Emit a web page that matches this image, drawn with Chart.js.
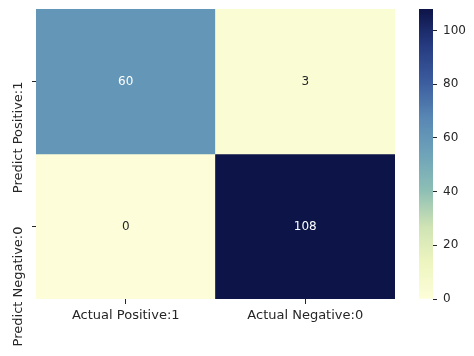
<!DOCTYPE html>
<html>
<head>
<meta charset="utf-8">
<script src="https://cdn.jsdelivr.net/npm/chart.js@4/dist/chart.umd.min.js"></script>
<style>
  html, body { margin: 0; padding: 0; background: #ffffff; }
  #wrap { position: relative; width: 474px; height: 356px; overflow: hidden; }
  #heat { position: absolute; left: 0; top: 0; }
  #cbar { position: absolute; left: 410px; top: 0; }
</style>
</head>
<body>
<div id="wrap">
  <canvas id="heat" width="474" height="356"></canvas>
  <canvas id="cbar" width="64" height="356"></canvas>
</div>
<script>
// ---- data ----
const colLabels = ['Actual Positive:1', 'Actual Negative:0'];
const rowLabels = ['Predict Positive:1', 'Predict Negative:0'];
const rowPositiveValues = [60, 3];
const rowNegativeValues = [0, 108];
const colorbarTicks = [0, 20, 40, 60, 80, 100];
const vmin = 0;
const vmax = 108;
// colormap (as it appears in the reference), position 0..1 -> colour
const cmapPositions = [0, 0.125, 0.25, 0.375, 0.5, 0.625, 0.75, 0.875, 1];
const cmapColors = ['#fdfed9', '#eef5c0', '#cfe3b4', '#8dbfb5', '#6ea3b9', '#5887b4', '#3b5c9e', '#263a80', '#0d1448'];

const rows = [rowPositiveValues, rowNegativeValues];
const TEXT = '#262626';
const FONT = { family: 'DejaVu Sans', size: 12 };
const AXIS_FONT = { family: 'DejaVu Sans', size: 13 };

function hexToRgb(h) {
  const n = parseInt(h.slice(1), 16);
  return [(n >> 16) & 255, (n >> 8) & 255, n & 255];
}
function cmapRgb(t) {
  t = Math.max(0, Math.min(1, t));
  for (let i = 0; i < cmapPositions.length - 1; i++) {
    const a = cmapPositions[i], b = cmapPositions[i + 1];
    if (t <= b) {
      const f = (t - a) / (b - a);
      const c1 = hexToRgb(cmapColors[i]), c2 = hexToRgb(cmapColors[i + 1]);
      return c1.map((v, k) => Math.round(v + (c2[k] - v) * f));
    }
  }
  return hexToRgb(cmapColors[cmapColors.length - 1]);
}
function valueColor(v) {
  const c = cmapRgb((v - vmin) / (vmax - vmin));
  return 'rgb(' + c.join(',') + ')';
}
function textColorFor(v) {
  const c = cmapRgb((v - vmin) / (vmax - vmin)).map(x => {
    x /= 255;
    return x <= 0.03928 ? x / 12.92 : Math.pow((x + 0.055) / 1.055, 2.4);
  });
  const lum = 0.2126 * c[0] + 0.7152 * c[1] + 0.0722 * c[2];
  return lum < 0.408 ? '#ffffff' : TEXT;
}

const annotatePlugin = {
  id: 'annotate',
  afterDatasetsDraw(chart) {
    const ctx = chart.ctx;
    ctx.save();
    ctx.font = FONT.size + 'px ' + FONT.family;
    ctx.textAlign = 'center';
    ctx.textBaseline = 'middle';
    chart.data.datasets.forEach((ds, di) => {
      const meta = chart.getDatasetMeta(di);
      meta.data.forEach((el, i) => {
        const v = rows[di][i];
        ctx.fillStyle = textColorFor(v);
        ctx.fillText(String(v), el.x, (el.y + el.base) / 2);
      });
    });
    ctx.restore();
  }
};

new Chart(document.getElementById('heat'), {
  type: 'bar',
  data: {
    labels: colLabels,
    datasets: rows.map((vals, r) => ({
      label: rowLabels[r],
      data: vals.map(() => [r, r + 1]),
      backgroundColor: vals.map(v => valueColor(v)),
      borderWidth: 0,
      grouped: false,
      categoryPercentage: 1.0,
      barPercentage: 1.0
    }))
  },
  options: {
    responsive: false,
    animation: false,
    layout: { padding: { top: 9, right: 79, left: 0, bottom: 0 } },
    plugins: { legend: { display: false }, tooltip: { enabled: false } },
    scales: {
      x: {
        type: 'category',
        offset: true,
        border: { display: false },
        grid: { display: true, drawOnChartArea: false, offset: false, tickLength: 5, color: TEXT, tickWidth: 1 },
        ticks: { color: TEXT, font: AXIS_FONT, padding: 4, maxRotation: 0, minRotation: 0 },
        afterFit(scale) { scale.height = 57; scale.paddingLeft = 0; scale.paddingRight = 0; }
      },
      y: {
        type: 'linear',
        min: 0,
        max: rows.length,
        reverse: true,
        border: { display: false },
        grid: { display: true, drawOnChartArea: false, tickLength: 4, color: TEXT, tickWidth: 1 },
        afterBuildTicks(scale) {
          scale.ticks = rowLabels.map((_, r) => ({ value: r + 0.5 }));
        },
        ticks: {
          color: TEXT,
          font: AXIS_FONT,
          padding: 13,
          autoSkip: false,
          minRotation: 90,
          maxRotation: 90,
          callback(value, index) { return rowLabels[index]; }
        },
        afterFit(scale) { scale.width = 36; scale.paddingTop = 0; scale.paddingBottom = 0; }
      }
    }
  },
  plugins: [annotatePlugin]
});

// ---- colorbar ----
new Chart(document.getElementById('cbar'), {
  type: 'bar',
  data: {
    labels: ['colorbar'],
    datasets: [{
      data: [[vmin, vmax]],
      borderWidth: 0,
      categoryPercentage: 1.0,
      barPercentage: 1.0,
      backgroundColor(context) {
        const chart = context.chart;
        const area = chart.chartArea;
        if (!area) return cmapColors[0];
        const ys = chart.scales.y;
        const g = chart.ctx.createLinearGradient(0, ys.getPixelForValue(vmin), 0, ys.getPixelForValue(vmax));
        cmapPositions.forEach((p, i) => g.addColorStop(p, cmapColors[i]));
        return g;
      }
    }]
  },
  options: {
    responsive: false,
    animation: false,
    layout: { padding: { top: 9, right: 0, left: 9, bottom: 57 } },
    plugins: { legend: { display: false }, tooltip: { enabled: false } },
    scales: {
      x: { display: false },
      y: {
        position: 'right',
        min: vmin,
        max: vmax,
        border: { display: false },
        grid: { display: true, drawOnChartArea: false, tickLength: 4, color: TEXT, tickWidth: 1 },
        afterBuildTicks(scale) {
          scale.ticks = colorbarTicks.map(v => ({ value: v }));
        },
        ticks: { color: TEXT, font: FONT, padding: 6, autoSkip: false },
        afterFit(scale) { scale.width = 41; scale.paddingTop = 0; scale.paddingBottom = 0; }
      }
    }
  }
});
</script>
</body>
</html>
